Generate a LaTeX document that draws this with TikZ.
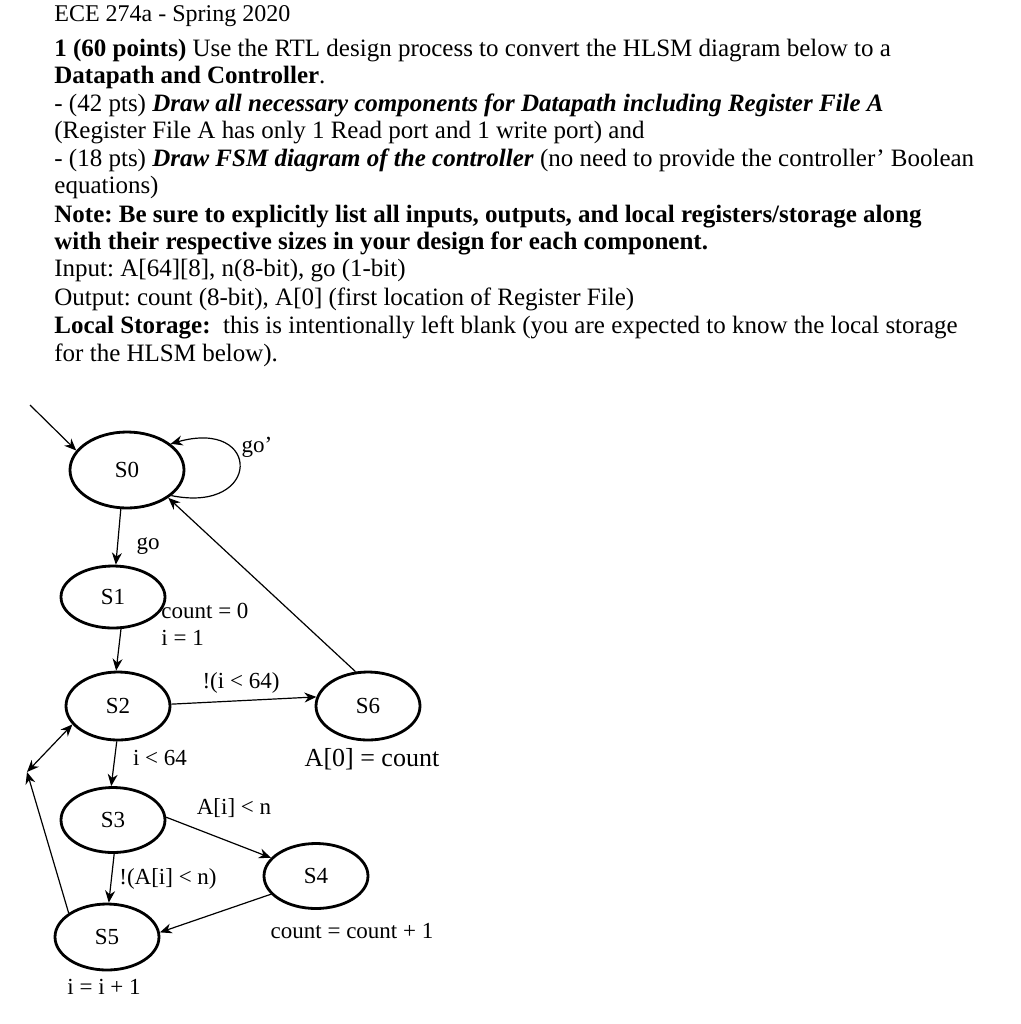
\documentclass[tikz,border=0pt]{standalone}
\usepackage{fontspec}
\setmainfont{Liberation Serif}
\usetikzlibrary{positioning,arrows.meta,shapes.geometric}
\frenchspacing

\begin{document}
\begin{tikzpicture}[x=0.5pt,y=-0.5pt,
        state/.style={draw, ellipse, line width=1.4pt, minimum width=52pt, minimum height=32.5pt, inner sep=0pt, font=\fontsize{11.5}{13}\selectfont},
        trans/.style={-{Stealth[length=6pt,width=5pt]}, line width=0.6pt},
        twoway/.style={{Stealth[length=6pt,width=5pt]}-{Stealth[length=6pt,width=5pt]}, line width=0.6pt},
        lab/.style={font=\fontsize{11.5}{13.5}\selectfont, inner sep=0pt},
        txt/.style={anchor=base west, inner sep=0pt, font=\fontsize{12.5}{15}\selectfont}
    ]
        \useasboundingbox (0,0) rectangle (1021,1024);

        % Question text
        \node[txt, font=\fontsize{12}{14}\selectfont] (title) at (54,21) {ECE 274a - Spring 2020};
        \node[txt] (q1) at (54,56) {\textbf{1 (60 points)} Use the RTL design process to convert the HLSM diagram below to a};
        \node[txt] (q2) at (54,83) {\textbf{Datapath and Controller}.};
        \node[txt] (q3) at (54,111) {- (42 pts) \textbf{\textit{Draw all necessary components for Datapath including Register File A}}};
        \node[txt] (q4) at (54,138) {(Register File A has only 1 Read port and 1 write port) and};
        \node[txt] (q5) at (54,166) {- (18 pts) \textbf{\textit{Draw FSM diagram of the controller}} (no need to provide the controller’ Boolean};
        \node[txt] (q6) at (54,193) {equations)};
        \node[txt] (q7) at (54,222) {\textbf{Note: Be sure to explicitly list all inputs, outputs, and local registers/storage along}};
        \node[txt] (q8) at (54,249) {\textbf{with their respective sizes in your design for each component.}};
        \node[txt] (q9) at (54,276) {Input: A[64][8], n(8-bit), go (1-bit)};
        \node[txt] (q10) at (54,305) {Output: count (8-bit), A[0] (first location of Register File)};
        \node[txt] (q11) at (54,333) {\textbf{Local Storage:}\ \ this is intentionally left blank (you are expected to know the local storage};
        \node[txt] (q12) at (54,361) {for the HLSM below).};

        % States
        \node[state, minimum width=57pt, minimum height=38pt] (s0) at (127,470) {S0};
        \node[state, minimum height=31pt] (s1) at (113,597) {S1};
        \node[state, minimum height=34pt] (s2) at (118,706) {S2};
        \node[state] (s3) at (113,820) {S3};
        \node[state] (s4) at (316,876) {S4};
        \node[state, minimum height=33pt] (s5) at (107,937) {S5};
        \node[state, minimum height=34pt] (s6) at (368,706) {S6};

        % Transitions
        \coordinate (init) at (30,405);
        \coordinate (bend) at (27,772);
        \draw[trans] (init) -- (s0.159);
        \draw[trans] (s0.330) .. controls (262,514) and (262,418) .. (s0.31);
        \draw[trans] (s0.261) -- (s1.85);
        \draw[trans] (s1.284) -- (s2.93);
        \draw[trans] (s2.2) -- (s6.170);
        \draw[trans] (s6.110) -- (s0.326);
        \draw[trans] (s2.268) -- (s3.93);
        \draw[trans] (s3.3) -- (s4.158);
        \draw[trans] (s3.272) -- (s5.87);
        \draw[trans] (s4.202) -- (s5.5);
        \draw[trans] (s5.148) -- (bend);
        \draw[twoway] (bend) -- (s2.202);

        % Conditions
        \node[lab] (go) at (257,447) {go’};
        \node[lab] (gostart) at (148,546) {go};
        \node[lab] (inotlt) at (241,683) {!(i < 64)};
        \node[lab] (ilt) at (160,758) {i < 64};
        \node[lab] (alt) at (234,808) {A[i] < n};
        \node[lab] (anotlt) at (168,879) {!(A[i] < n)};

        % State actions
        \node[lab, anchor=west, align=left] (act1) at (161,624) {count = 0\\i = 1};
        \node[lab, font=\fontsize{13}{15}\selectfont] (act6) at (372,759) {A[0] = count};
        \node[lab] (act4) at (352,931) {count = count + 1};
        \node[lab] (act5) at (104,987) {i = i + 1};
    \end{tikzpicture}
\end{document}
